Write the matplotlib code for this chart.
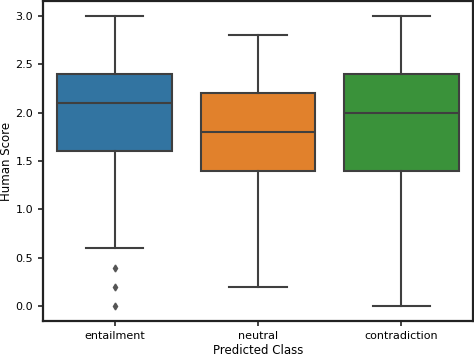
import matplotlib
matplotlib.use("Agg")
import matplotlib.pyplot as plt

CLASSES = ["entailment", "neutral", "contradiction"]
WHISKER_LOW = [0.6, 0.2, 0.0]
Q1 = [1.6, 1.4, 1.4]
MEDIAN = [2.1, 1.8, 2.0]
Q3 = [2.4, 2.2, 2.4]
WHISKER_HIGH = [3.0, 2.8, 3.0]
FLIERS = [[0.4, 0.2, 0.0], [], []]

COLORS = ["#3274a1", "#e1812c", "#3a923a"]
LINE_GRAY = "#3f3f3f"


def main() -> None:
    fig = plt.figure(figsize=(4.74, 3.56), dpi=100)
    ax = fig.add_axes([43 / 474, 35 / 356, 430 / 474, 320 / 356])

    stats = []
    for name, lo, q1, med, q3, hi, fl in zip(CLASSES, WHISKER_LOW, Q1, MEDIAN, Q3,
                                              WHISKER_HIGH, FLIERS):
        stats.append(dict(label=name, whislo=lo, q1=q1, med=med, q3=q3, whishi=hi, fliers=fl))

    line = dict(color=LINE_GRAY, linewidth=1.5)
    parts = ax.bxp(stats, positions=range(len(CLASSES)), widths=0.8, patch_artist=True,
                   boxprops=dict(edgecolor=LINE_GRAY, linewidth=1.5),
                   whiskerprops=line, capprops=line, medianprops=line,
                   flierprops=dict(marker="d", markersize=3.5, markerfacecolor="#555555",
                                   markeredgecolor="#555555", linestyle="none"),
                   capwidths=0.4)
    for box, color in zip(parts["boxes"], COLORS):
        box.set_facecolor(color)

    ax.set_xlim(-0.5, len(CLASSES) - 0.5)
    ax.set_ylim(-0.15, 3.15)
    ax.set_yticks([0.0, 0.5, 1.0, 1.5, 2.0, 2.5, 3.0])
    ax.tick_params(labelsize=8, width=1.2, length=3.5, color="#222222")
    ax.set_xlabel("Predicted Class", fontsize=8.5, labelpad=2)
    ax.set_ylabel("Human Score", fontsize=8.5, labelpad=2)
    for spine in ax.spines.values():
        spine.set_linewidth(1.6)
        spine.set_color("#222222")

    fig.savefig("out.png", dpi=100)


if __name__ == "__main__":
    main()
